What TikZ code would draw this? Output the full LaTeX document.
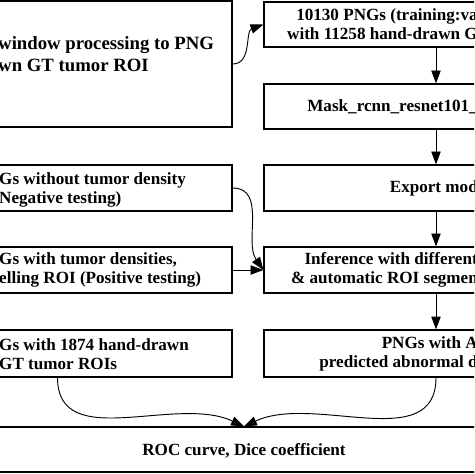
\documentclass[tikz,border=0pt]{standalone}
\usepackage{fontspec}
\setmainfont{Liberation Serif}
\usetikzlibrary{arrows.meta,fit}

\tikzset{
	box/.style={draw, line width=1pt, inner sep=0pt},
	txt/.style={font=\bfseries\fontsize{14.6}{16.5}\selectfont, inner sep=0pt},
	bigtxt/.style={font=\bfseries\fontsize{16}{18.5}\selectfont, inner sep=0pt},
	flow/.style={-{Triangle[length=11pt,width=8pt]}, line width=0.8pt},
}

\begin{document}
\begin{tikzpicture}[x=0.03cm, y=-0.03cm]
			% Frame
			\useasboundingbox (0,0) rectangle (474,474);
			\clip (0,0) rectangle (474,474);
			\def\lcolleft{-117}
			\def\lcolright{232}
			\def\rcolleft{264}
			\def\rcolright{608}

			% Left column
			\node[box, fit={(\lcolleft,1) (\lcolright,127)}] (prep) {};
			\node[bigtxt, anchor=west, align=left] (preptext) at (-2,54) {window processing to PNG\\wn GT tumor ROI};
			\node[box, fit={(\lcolleft,165) (\lcolright,211)}] (neg) {};
			\node[txt, anchor=west, align=left] (negtext) at (-1,190) {Gs without tumor density\\Negative testing)};
			\node[box, fit={(\lcolleft,247) (\lcolright,293)}] (pos) {};
			\node[txt, anchor=west, align=left] (postext) at (-1,270) {Gs with tumor densities,\\elling ROI (Positive testing)};
			\node[box, fit={(\lcolleft,330) (\lcolright,377)}] (gt) {};
			\node[txt, anchor=west, align=left] (gttext) at (-1,354) {Gs with 1874 hand-drawn\\GT tumor ROIs};

			% Right column
			\node[box, fit={(\rcolleft,2) (\rcolright,47)}] (pngs) {};
			\node[txt, anchor=east, align=right] (pngstext) at (478,24) {10130 PNGs (training:va\\with 11258 hand-drawn G};
			\node[box, fit={(\rcolleft,84) (\rcolright,129)}] (mask) {};
			\node[txt, anchor=east] (masktext) at (478,107) {Mask\_rcnn\_resnet101\_};
			\node[box, fit={(\rcolleft,165) (\rcolright,211)}] (export) {};
			\node[txt, anchor=east] (exporttext) at (478,188) {Export mod};
			\node[box, fit={(\rcolleft,247) (\rcolright,293)}] (infer) {};
			\node[txt, anchor=east, align=right] (infertext) at (478,270) {Inference with different\\\& automatic ROI segmen};
			\node[box, fit={(\rcolleft,330) (\rcolright,377)}] (pred) {};
			\node[txt, anchor=east, align=right] (predtext) at (478,354) {PNGs with A\\predicted abnormal d};

			% Result
			\node[box, fit={(-20,427) (508,472)}] (roc) {};
			\node[txt] (roctext) at (244,451) {ROC curve, Dice coefficient};

			% Arrows
			\draw[flow] (prep.east) to[out=0, in=200] (pngs.west);
			\draw[flow] (pngs.south) -- (mask.north);
			\draw[flow] (mask.south) -- (export.north);
			\draw[flow] (export.south) -- (infer.north);
			\draw[flow] (neg.east) to[out=0, in=125] (infer.west);
			\draw[flow] (pos.east) -- (infer.west);
			\draw[flow] (infer.south) -- (pred.north);
			\draw[flow] (gt.south) to[out=-90, in=155] (roc.north);
			\draw[flow] (pred.south) to[out=-90, in=25] (roc.north);
		\end{tikzpicture}
\end{document}
